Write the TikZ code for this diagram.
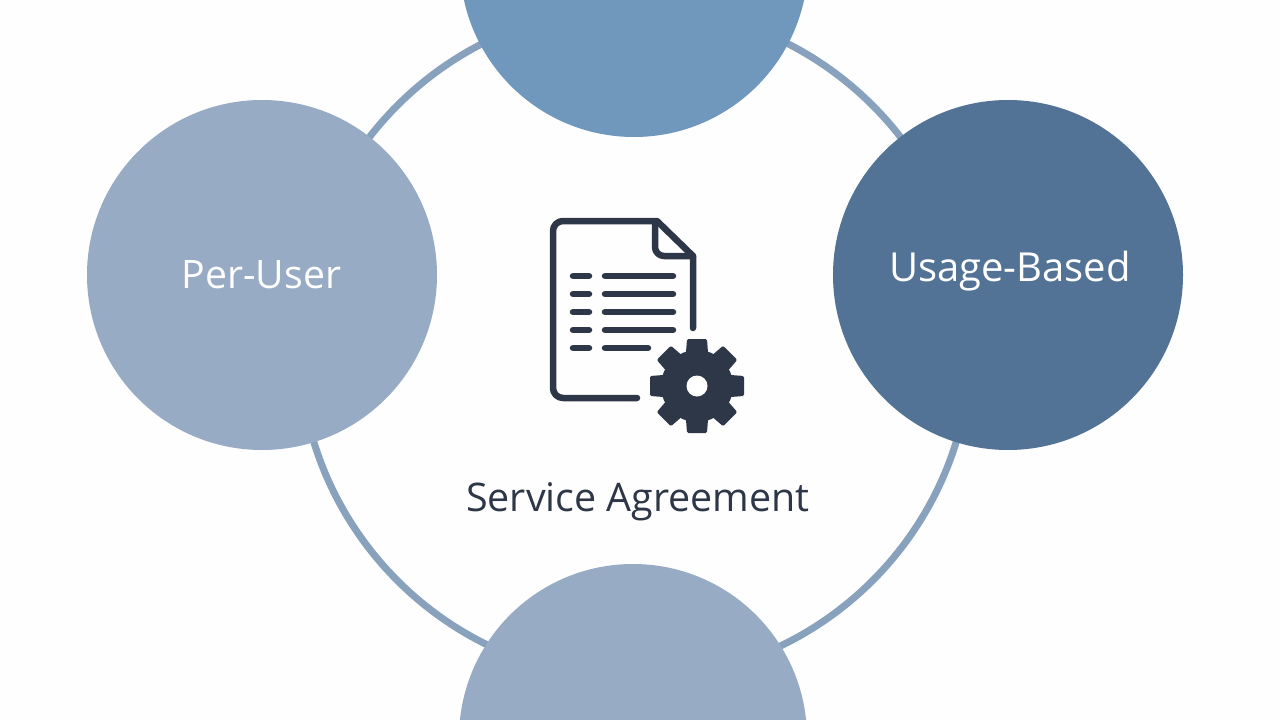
\documentclass[tikz,border=0pt]{standalone}
\usepackage{fontspec}
\setmainfont{Open Sans}
\definecolor{bgc}{HTML}{FEFEFE}
\definecolor{ringc}{HTML}{88A1BC}
\definecolor{lightb}{HTML}{98ABC4}
\definecolor{midb}{HTML}{7098BD}
\definecolor{darkb}{HTML}{527296}
\definecolor{ink}{HTML}{2D3748}
\tikzset{
  px/.style={x=1pt,y=-1pt},
  disc/.style={circle,draw=none,minimum size=350pt,inner sep=0pt},
  ringline/.style={draw=ringc,line width=7pt},
  doc/.style={draw=ink,line width=6.5pt,line cap=round,line join=round},
  txtline/.style={draw=ink,line width=6.5pt,line cap=round},
  lab/.style={text=white,inner sep=0pt,anchor=base},
  title/.style={text=ink,font=\fontsize{39.4}{42}\selectfont,inner sep=0pt,anchor=base},
}
\begin{document}
\begin{tikzpicture}[px]
\useasboundingbox (0,0) rectangle (1280,720);
\fill[bgc] (0,0) rectangle (1280,720);
\begin{scope}
\clip (0,0) rectangle (1280,720);
\coordinate (ringc) at (635,343);
\draw[ringline] (ringc) circle[radius=336];
\node[disc,minimum size=348pt,fill=midb] (top) at (634,-37) {};
\node[disc,minimum size=348pt,fill=lightb] (bottom) at (633,738) {};
\end{scope}
\node[disc,fill=lightb] (left) at (262,275) {};
\node[disc,fill=darkb] (right) at (1008,275) {};
\node[lab,font=\fontsize{39.2}{42}\selectfont] (perlabel) at (261.5,288) {Per-User};
\node[lab,font=\fontsize{40}{42}\selectfont] (usagelabel) at (1010,281) {Usage-Based};
\node[title] (service) at (638,511) {Service Agreement};
% document icon
\draw[doc] (637,398) -- (563,398) arc[start angle=90,end angle=180,radius=10]
  -- (553,231) arc[start angle=180,end angle=270,radius=10]
  -- (657,221) -- (693,256) -- (693,328);
\draw[doc] (655,223) -- (655,247) arc[start angle=180,end angle=90,radius=9] -- (693,256);
\foreach \y in {276,294,312,330,348}{
  \draw[txtline] (573,\y) -- (589,\y);
}
\foreach \y/\e in {276/673,294/673,312/673,330/673,348/648}{
  \draw[txtline] (605,\y) -- (\e,\y);
}
% gear
\coordinate (gear) at (697,386);
\fill[ink] (gear) circle[radius=36];
\foreach \a in {0,45,...,315}{
  \fill[ink,rotate around={\a:(gear)},rounded corners=1.5pt] (685,366) -- (687,339) -- (707,339) -- (709,366) -- cycle;
}
\fill[white] (gear) circle[radius=10.5];
\end{tikzpicture}
\end{document}
